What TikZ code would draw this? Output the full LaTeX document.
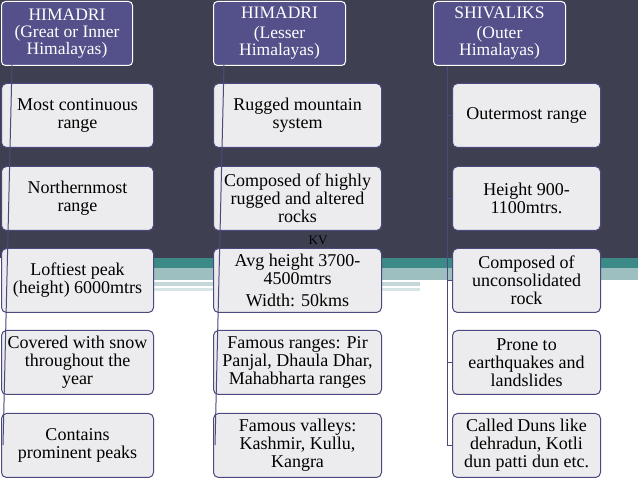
\documentclass[tikz,border=0pt]{standalone}
\usepackage{fontspec}
\setmainfont{Liberation Serif}
\begin{document}
\begin{tikzpicture}[x=1pt,y=-1pt,
 hdr/.style={draw=white,line width=1pt,fill=hdrc,rounded corners=4pt,text=white,align=center,anchor=north west,inner sep=0pt,font=\fontsize{17.5}{17}\selectfont},
 itm/.style={draw=boxb,line width=1pt,fill=boxf,rounded corners=5pt,align=center,anchor=north west,inner sep=0pt,font=\fontsize{18}{18}\selectfont},
 ln/.style={draw=boxb,line width=1pt}]
\definecolor{bg}{HTML}{3F3F52}
\definecolor{hdrc}{HTML}{54508A}
\definecolor{boxb}{HTML}{4B4A7E}
\definecolor{boxf}{HTML}{ECECEE}
\definecolor{teal1}{HTML}{3C8A88}
\definecolor{teal2}{HTML}{9DBFC0}
\useasboundingbox (0,0) rectangle (638,478);
\fill[bg] (0,0) rectangle (638,258);
\fill[teal1] (150,258) rectangle (638,268);
\fill[teal2] (150,268) rectangle (638,280);
\fill[teal2!60] (150,282) rectangle (420,286);
\fill[teal2!40] (150,288) rectangle (420,291);
% connectors under col1/col2 boxes
\coordinate (p1) at (12,65);
\coordinate (q1) at (3,445);
\coordinate (p2) at (224,65);
\coordinate (q2) at (215,445);
% headers
\node[hdr,minimum width=131,minimum height=64] (h1) at (1,1) {HIMADRI\\(Great or Inner\\Himalayas)};
\node[hdr,minimum width=132,minimum height=64] (h2) at (213,1) {HIMADRI\\[3pt](Lesser\\Himalayas)};
\node[hdr,minimum width=132,minimum height=64] (h3) at (433,1) {SHIVALIKS\\[3pt](Outer\\Himalayas)};
\foreach \y/\n/\t in {83/a1/{Most continuous\\range},166/a2/{Northernmost\\range},248/a3/{Loftiest peak\\(height) 6000mtrs},330/a4/{Covered with snow\\throughout the\\year},413/a5/{Contains\\prominent peaks}}
 \node[itm,minimum width=152,minimum height=64] (\n) at (1,\y) {\t};
\foreach \y/\n/\t in {83/b1/{Rugged mountain\\system},166/b2/{Composed of highly\\rugged and altered\\rocks},248/b3/{Avg height 3700-\\4500mtrs\\[4pt]Width: 50kms},330/b4/{Famous ranges: Pir\\Panjal, Dhaula Dhar,\\Mahabharta ranges},413/b5/{Famous valleys:\\Kashmir, Kullu,\\Kangra}}
 \node[itm,minimum width=168,minimum height=64] (\n) at (213,\y) {\t};
\foreach \y/\n/\t in {83/c1/{Outermost range},166/c2/{Height 900-\\1100mtrs.},248/c3/{Composed of\\unconsolidated\\rock},330/c4/{Prone to\\earthquakes and\\landslides},413/c5/{Called Duns like\\dehradun, Kotli\\dun patti dun etc.}}
 \node[itm,minimum width=148,minimum height=64] (\n) at (452,\y) {\t};
\node[font=\fontsize{13}{14}\selectfont,inner sep=0pt] (kv) at (318,240) {KV};
\draw[ln] (p1) -- (q1);
\draw[ln] (p2) -- (q2);
\coordinate (p3) at ([xshift=14]h3.south west);
\draw[ln] (p3) -- (p3 |- c5.west);
\foreach \n in {c1,c2,c3,c4,c5} \draw[ln] (p3 |- \n.west) -- (\n.west);
\end{tikzpicture}
\end{document}
